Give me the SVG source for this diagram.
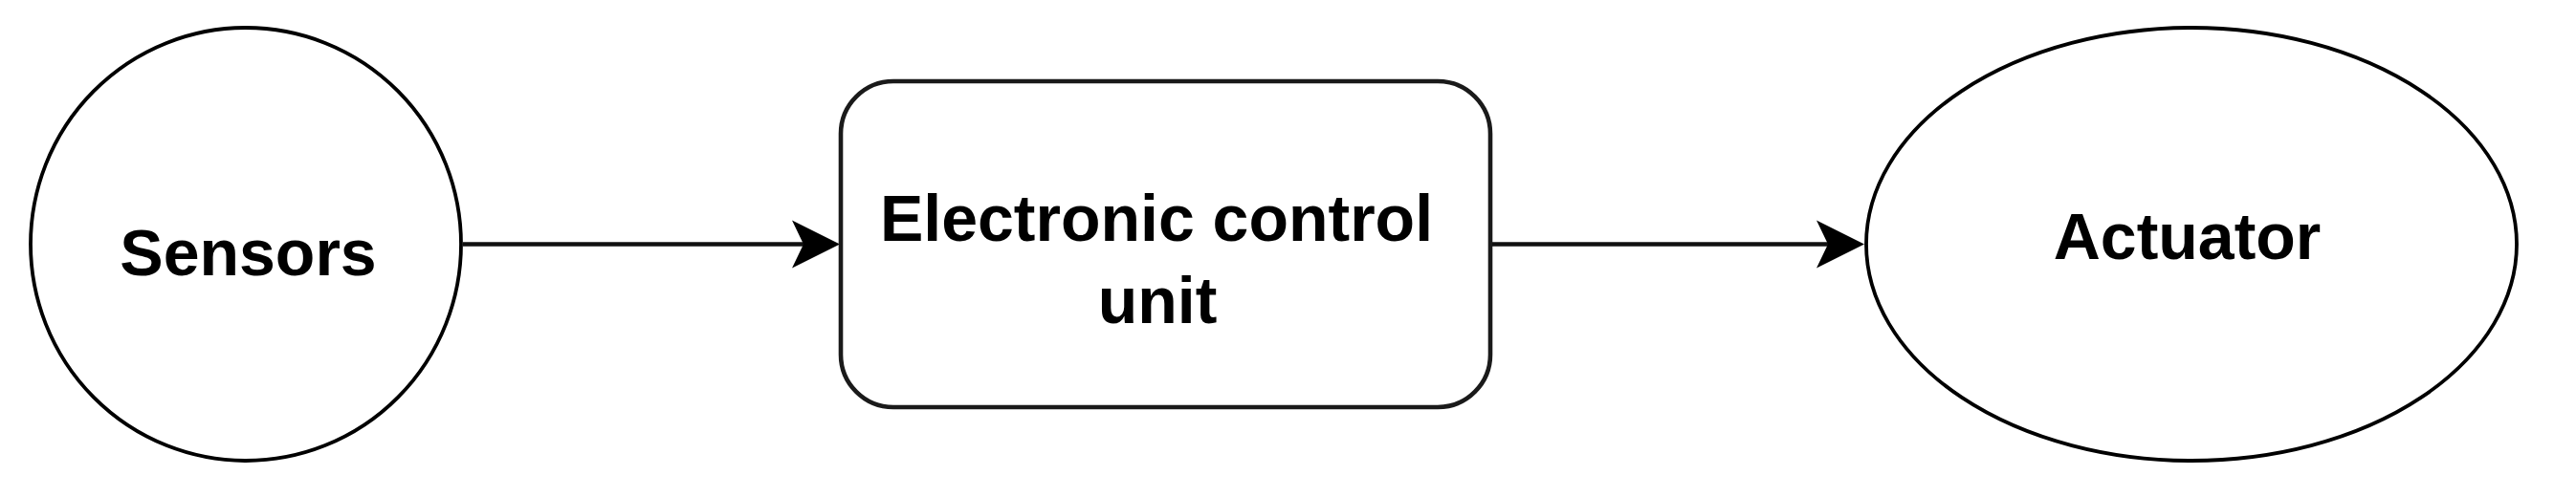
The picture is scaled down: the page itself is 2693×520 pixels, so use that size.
<svg xmlns="http://www.w3.org/2000/svg" width="2693" height="520" viewBox="0 0 2693 520">
<style>
.shape{fill:#fff;stroke:#000;stroke-width:3.8}
.box{fill:#fff;stroke:#1a1a1a;stroke-width:4.6}
.lbl{font-family:"Liberation Sans",Arial,Helvetica,sans-serif;font-weight:bold;font-size:68px;fill:#000;text-anchor:middle}
.edge{stroke:#111;stroke-width:4.6;fill:none}
</style>
<defs>
<marker id="arr" markerUnits="userSpaceOnUse" viewBox="0 0 52 52" refX="33" refY="26" markerWidth="52" markerHeight="52" orient="auto">
<path d="M0,1 L50,26 L0,51 L12,26 Z" fill="#000"/>
</marker>
</defs>
<rect width="2693" height="520" fill="#fff"/>
<g id="connectors">
<line class="edge" x1="484" y1="255.5" x2="861" y2="255.5" marker-end="url(#arr)"/>
<line class="edge" x1="1558" y1="255.5" x2="1932" y2="255.5" marker-end="url(#arr)"/>
</g>
<g id="sensors">
<ellipse class="shape" cx="257" cy="255.5" rx="225" ry="226.5"/>
<text class="lbl" x="259.5" y="288">Sensors</text>
</g>
<g id="ecu">
<rect class="box" x="879" y="85" width="679" height="341" rx="55" ry="55"/>
<text class="lbl" x="1209" y="252">Electronic control</text>
<text class="lbl" x="1210" y="338">unit</text>
</g>
<g id="actuator">
<ellipse class="shape" cx="2291" cy="255.5" rx="340" ry="226.5"/>
<text class="lbl" x="2286.5" y="271">Actuator</text>
</g>
</svg>
